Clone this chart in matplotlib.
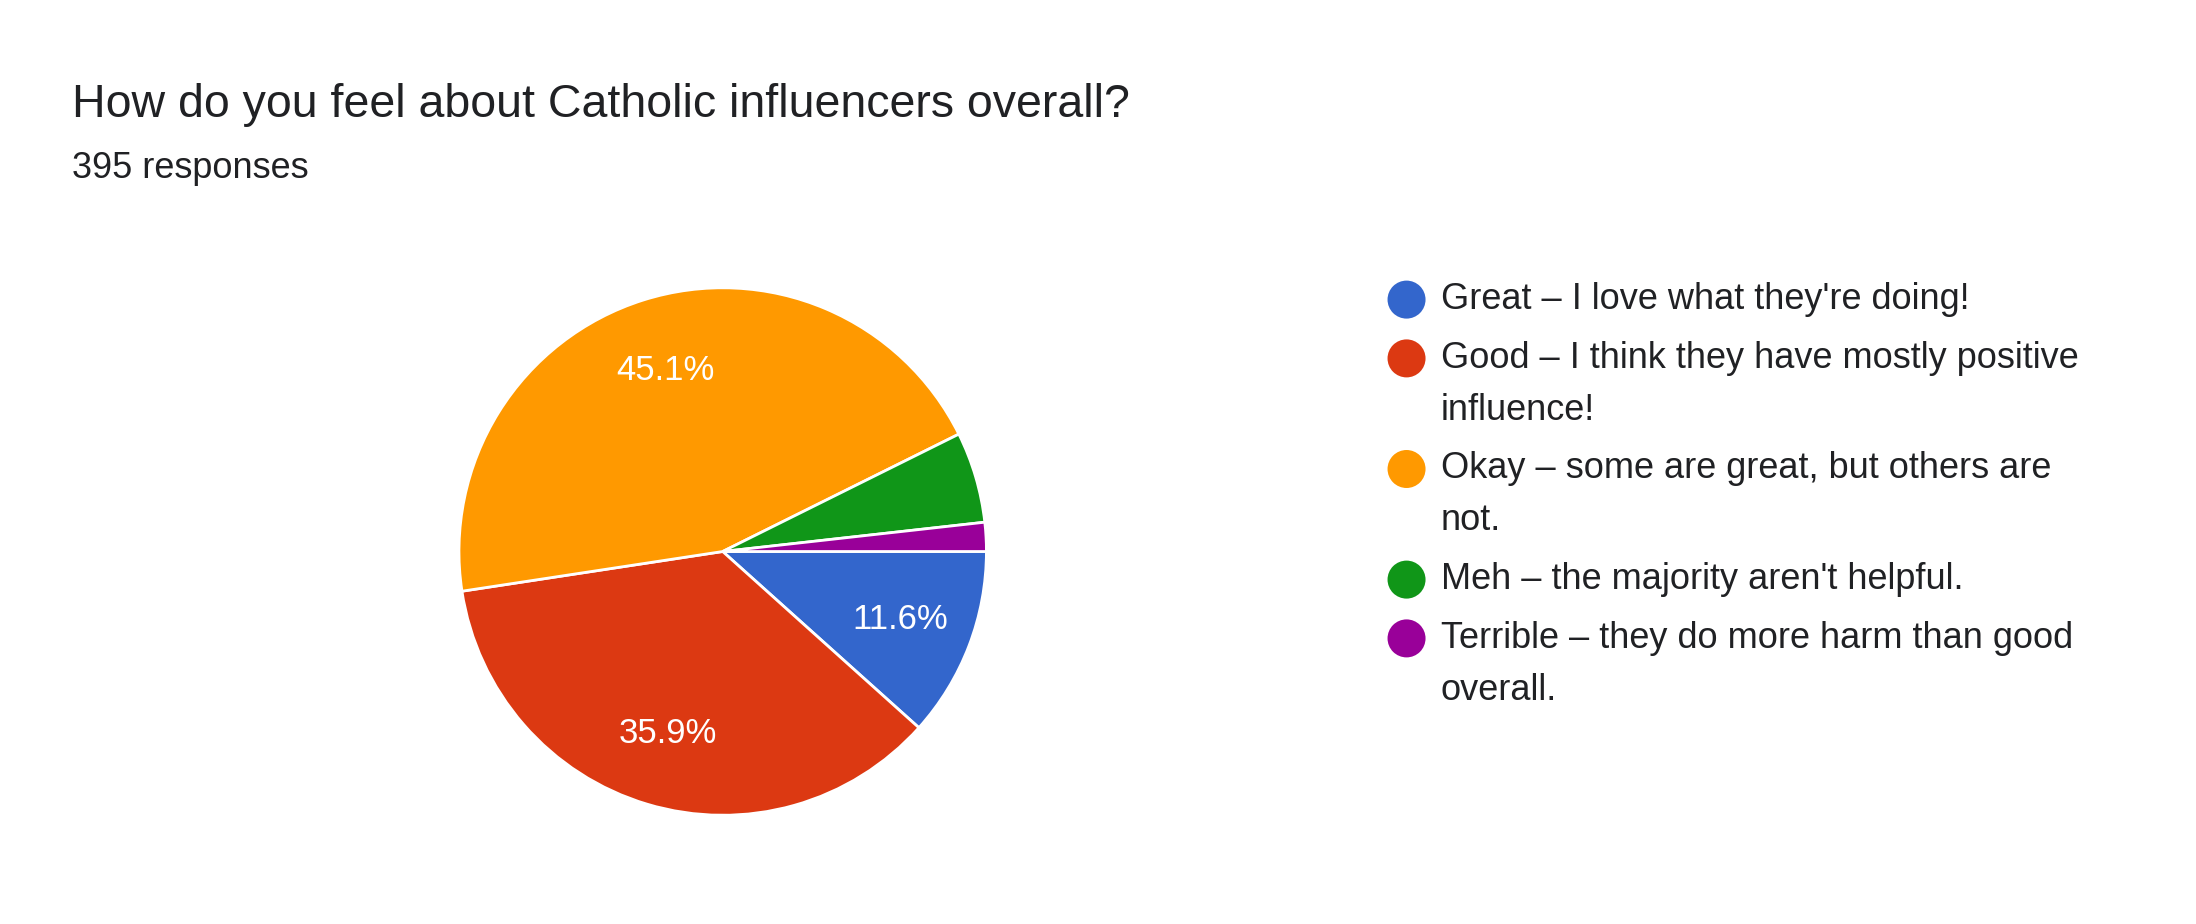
import matplotlib
matplotlib.use("Agg")
import matplotlib.pyplot as plt
from matplotlib.patches import Ellipse
import textwrap

plt.rcParams['font.family'] = ['Liberation Sans', 'DejaVu Sans']

categories = ["Great – I love what they're doing!",
              "Good – I think they have mostly positive influence!",
              "Okay – some are great, but others are not.",
              "Meh – the majority aren't helpful.",
              "Terrible – they do more harm than good overall."]
counts = [46, 142, 178, 22, 7]
colors = ['#3366CC', '#DC3912', '#FF9900', '#109618', '#990099']

W, H = 2196, 924
fig = plt.figure(figsize=(W/100, H/100), dpi=100)
fig.text(0.033, 0.886, "How do you feel about Catholic influencers overall?", fontsize=33.5, color='#202124', va='center')
fig.text(0.033, 0.818, "395 responses", fontsize=26, color='#202124', va='center')

ax = fig.add_axes([0.2066, 0.112, 538/W, 538/H])
wedges, texts, autotexts = ax.pie(counts, colors=colors, startangle=0, counterclock=False,
       autopct=lambda p: f"{p:.1f}%" if p > 8 else "", pctdistance=0.72,
       wedgeprops=dict(edgecolor='white', linewidth=2),
       textprops=dict(color='white', fontsize=25))
ax.set_xlim(-1.02, 1.02); ax.set_ylim(-1.02, 1.02)

ly = 214
line_step = 37
item_step = 42
for lab, c in zip(categories, colors):
    lines = textwrap.wrap(lab, 40)
    yfrac = 1 - (ly * 1.4) / H
    fig.patches.append(Ellipse((0.6405, yfrac), 38/W, 38/H, transform=fig.transFigure,
                               facecolor=c, edgecolor='none'))
    for i, ln in enumerate(lines):
        fig.text(0.656, 1 - ((ly + i*line_step) * 1.4) / H, ln, fontsize=26, color='#202124', va='center')
    ly += item_step + line_step * (len(lines) - 1)

fig.savefig("out.png", dpi=100, facecolor='white')
